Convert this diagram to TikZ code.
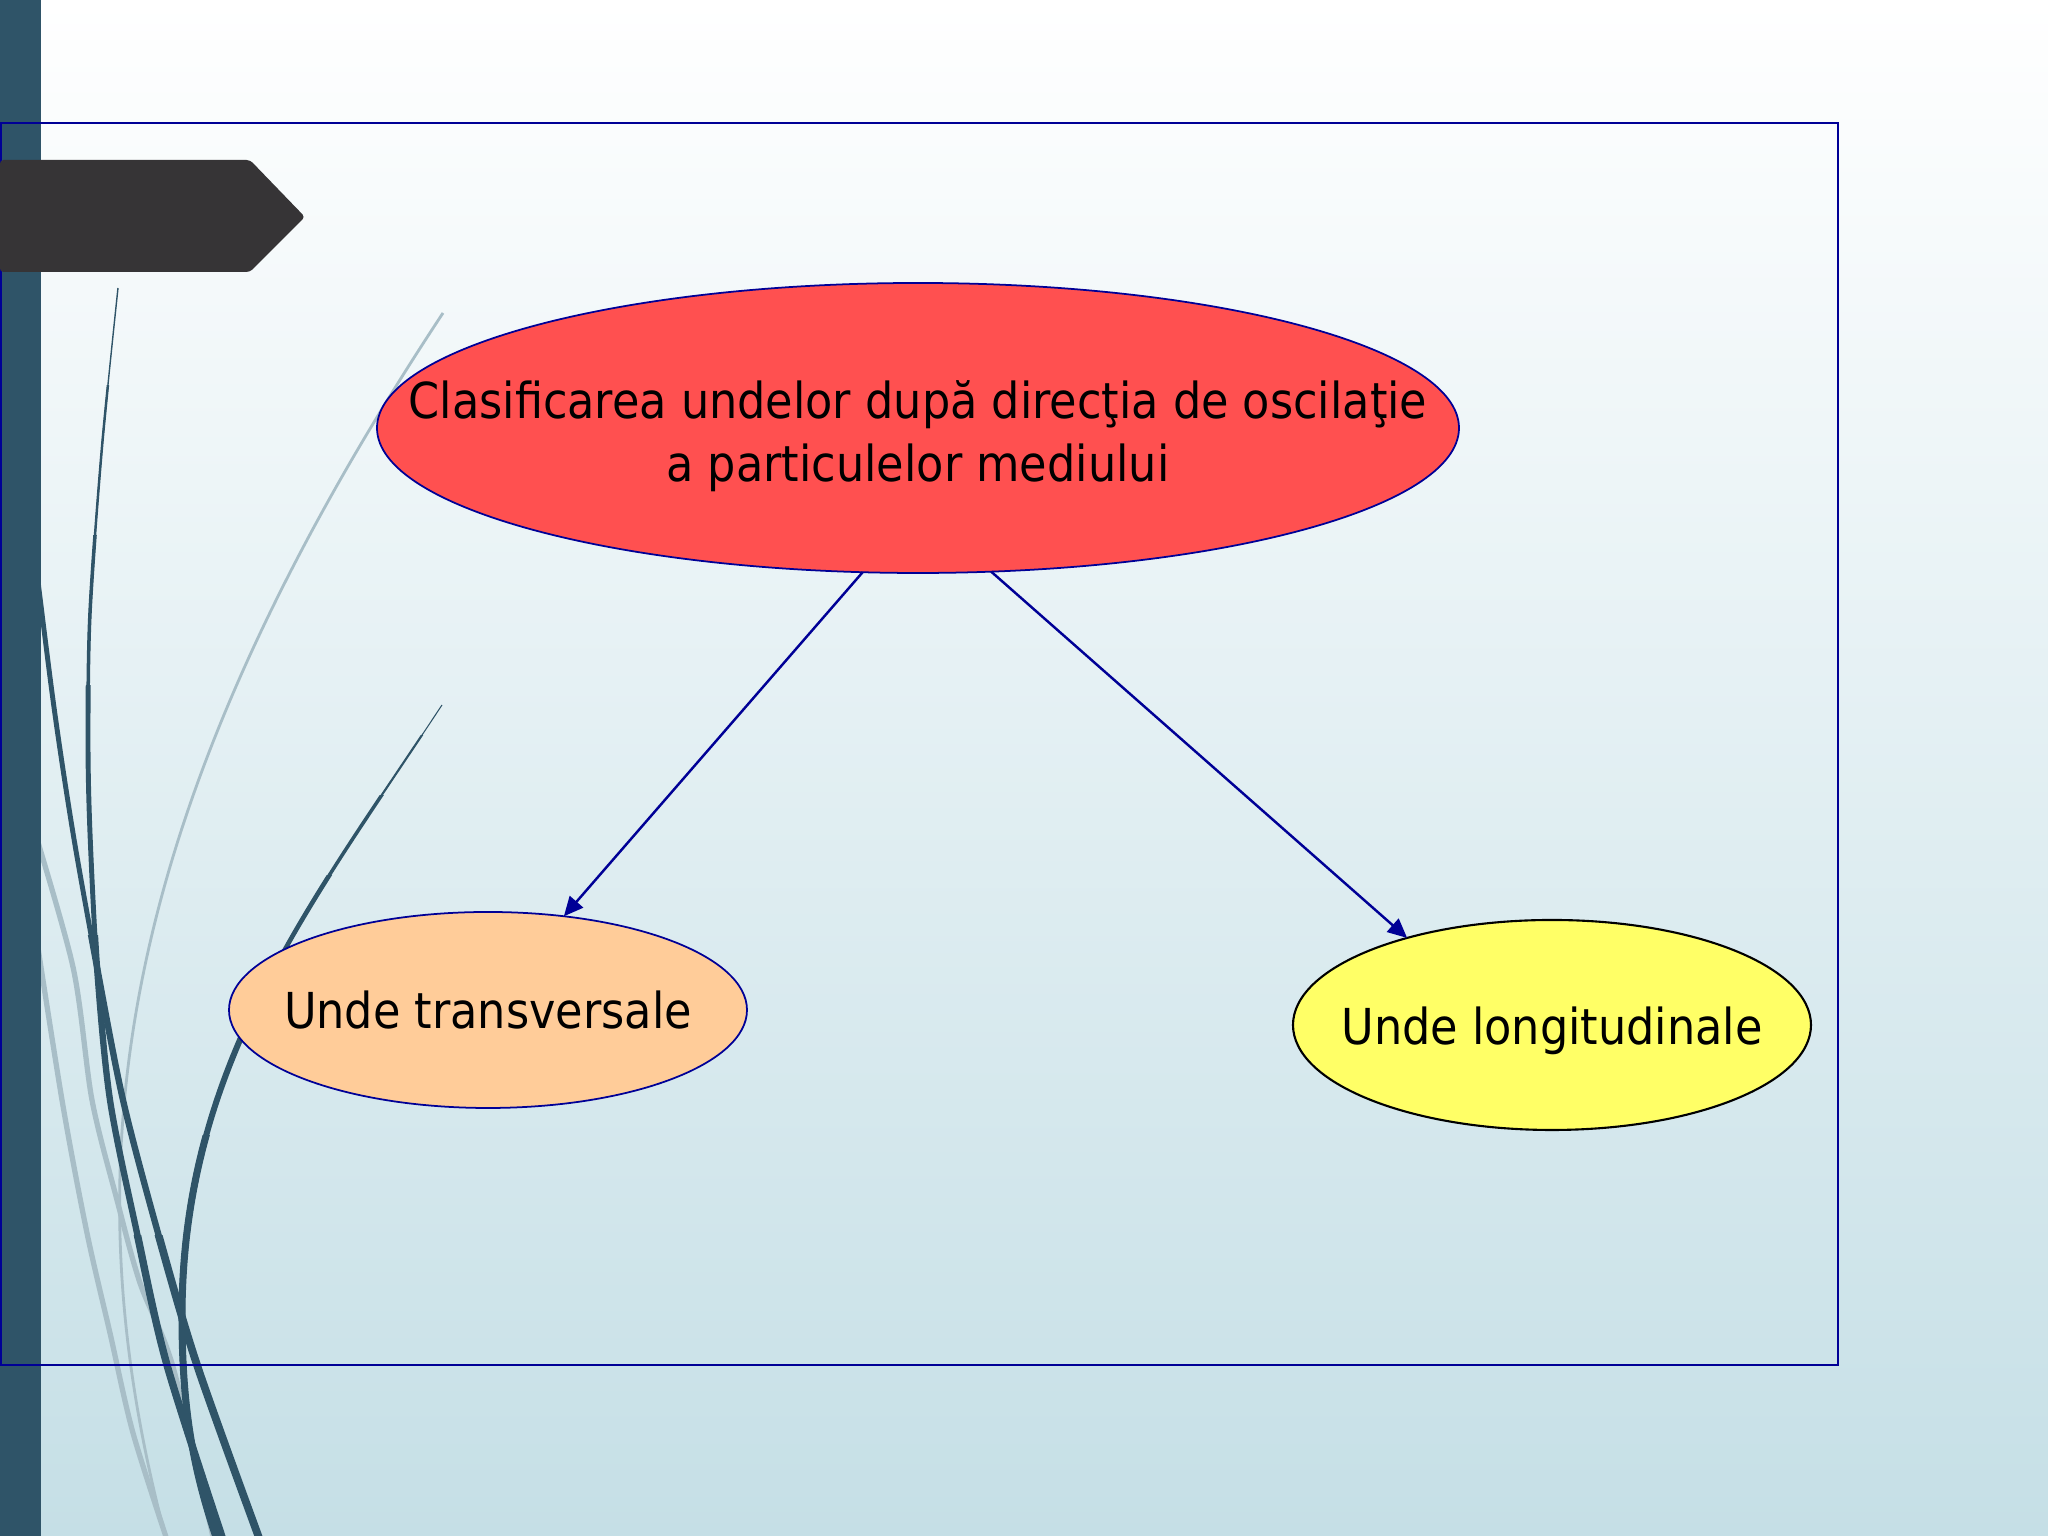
\documentclass[tikz,border=0pt]{standalone}
\usepackage{fontspec}
\setmainfont{DejaVu Sans Condensed}
\usetikzlibrary{shapes.geometric,arrows.meta}

\definecolor{framenavy}{RGB}{0,0,150}
\definecolor{barteal}{RGB}{47,84,104}
\definecolor{tabgray}{RGB}{54,52,54}
\definecolor{bgbottom}{RGB}{197,223,230}
\definecolor{bgmiddle}{RGB}{230,239,243}
\definecolor{swooshgray}{RGB}{168,190,199}
\definecolor{redfill}{RGB}{255,80,80}
\definecolor{peachfill}{RGB}{255,204,153}
\definecolor{yellowfill}{RGB}{255,255,102}

% dark swoosh that gets thicker towards the bottom
\newcommand{\taperswoosh}[2]{%
  \foreach \lw/\ylev in {#2}{
    \begin{scope}
      \clip (0,-1) rectangle (21,\ylev);
      \draw[barteal, line width=\lw pt] #1;
    \end{scope}
  }}

\begin{document}
\begin{tikzpicture}[
    bubble/.style={ellipse, inner sep=-4cm, outer sep=0pt, align=center, line width=0.5pt,
        font=\fontsize{14.1}{17.9}\selectfont},
    link/.style={framenavy, line width=0.7pt, -{Triangle[length=5.5pt,width=5pt]}},
    lightswoosh/.style={swooshgray, line width=1.5pt}
]
    \useasboundingbox (0,0) rectangle (20.48,15.36);
    \clip (0,0) rectangle (20.48,15.36);
    % background
    \shade[top color=white, middle color=bgmiddle, bottom color=bgbottom] (0,0) rectangle (20.48,15.36);
    % light swooshes
    \draw[lightswoosh, line width=0.8pt] (4.43,12.23) .. controls (1.13,7.23) and (0.65,3.7) .. (1.68,-0.1);
    \draw[lightswoosh] plot[smooth] coordinates {(0.30,7.20) (0.73,5.69) (0.92,4.36) (1.17,3.36) (1.40,2.53) (1.73,1.69) (2.15,-0.1)};
    \draw[lightswoosh] plot[smooth] coordinates {(0.30,6.40) (0.62,4.36) (0.87,3.03) (1.10,2.03) (1.33,1.03) (1.69,-0.1)};
    % dark swooshes
    \taperswoosh{plot[smooth] coordinates {(0.30,10.20) (0.53,8.36) (0.73,7.03) (0.97,5.69) (1.23,4.36) (1.58,3.03) (1.97,1.71) (2.62,-0.1)}}
        {1.4/16, 1.8/6, 2.2/3};
    \taperswoosh{plot[smooth] coordinates {(1.18,12.48) (1.02,10.89) (0.90,9.23) (0.88,7.96) (0.90,7.03) (0.97,5.69) (1.10,4.36) (1.37,3.03) (1.67,1.71) (2.25,-0.1)}}
        {0.4/16, 0.7/11.5, 1.0/10, 1.4/8.5, 1.8/6, 2.1/3};
    \taperswoosh{(4.42,8.31) .. controls (3.10,6.31) and (1.82,4.7) .. (1.82,2.2) .. controls (1.82,1.2) and (1.95,0.6) .. (2.19,-0.1)}
        {0.3/16, 0.6/8, 1.0/7.4, 1.3/6.6, 1.7/5.5, 2.0/4};
    % left bar
    \fill[barteal] (0,0) rectangle (0.41,15.36);
    % frame
    \draw[framenavy, line width=0.6pt] (0.01,1.71) rectangle (18.38,14.13);
    % title tab
    \fill[tabgray, rounded corners=1pt] (0,13.76) -- (2.50,13.76) -- (3.05,13.19) -- (2.50,12.64) -- (0,12.64) -- cycle;
    % ellipses
    \node[bubble, draw=framenavy, fill=redfill, minimum width=10.82cm, minimum height=2.90cm]
        (clasif) at (9.18,11.08) {\raisebox{-0.09cm}[\height][\depth]{\begin{tabular}{@{}c@{}}Clasificarea undelor după direcţia de oscilaţie\\a particulelor mediului\end{tabular}}};
    \node[bubble, draw=framenavy, fill=peachfill, minimum width=5.18cm, minimum height=1.96cm]
        (transv) at (4.88,5.26) {Unde transversale};
    \node[bubble, draw=black, line width=0.6pt, fill=yellowfill, minimum width=5.18cm, minimum height=2.10cm]
        (longit) at (15.52,5.11) {\raisebox{-0.06cm}[\height][\depth]{Unde longitudinale}};
    % arrows
    \draw[link] (clasif.249) -- (transv.51);
    \draw[link] (clasif.297) -- (longit.149);
\end{tikzpicture}
\end{document}
